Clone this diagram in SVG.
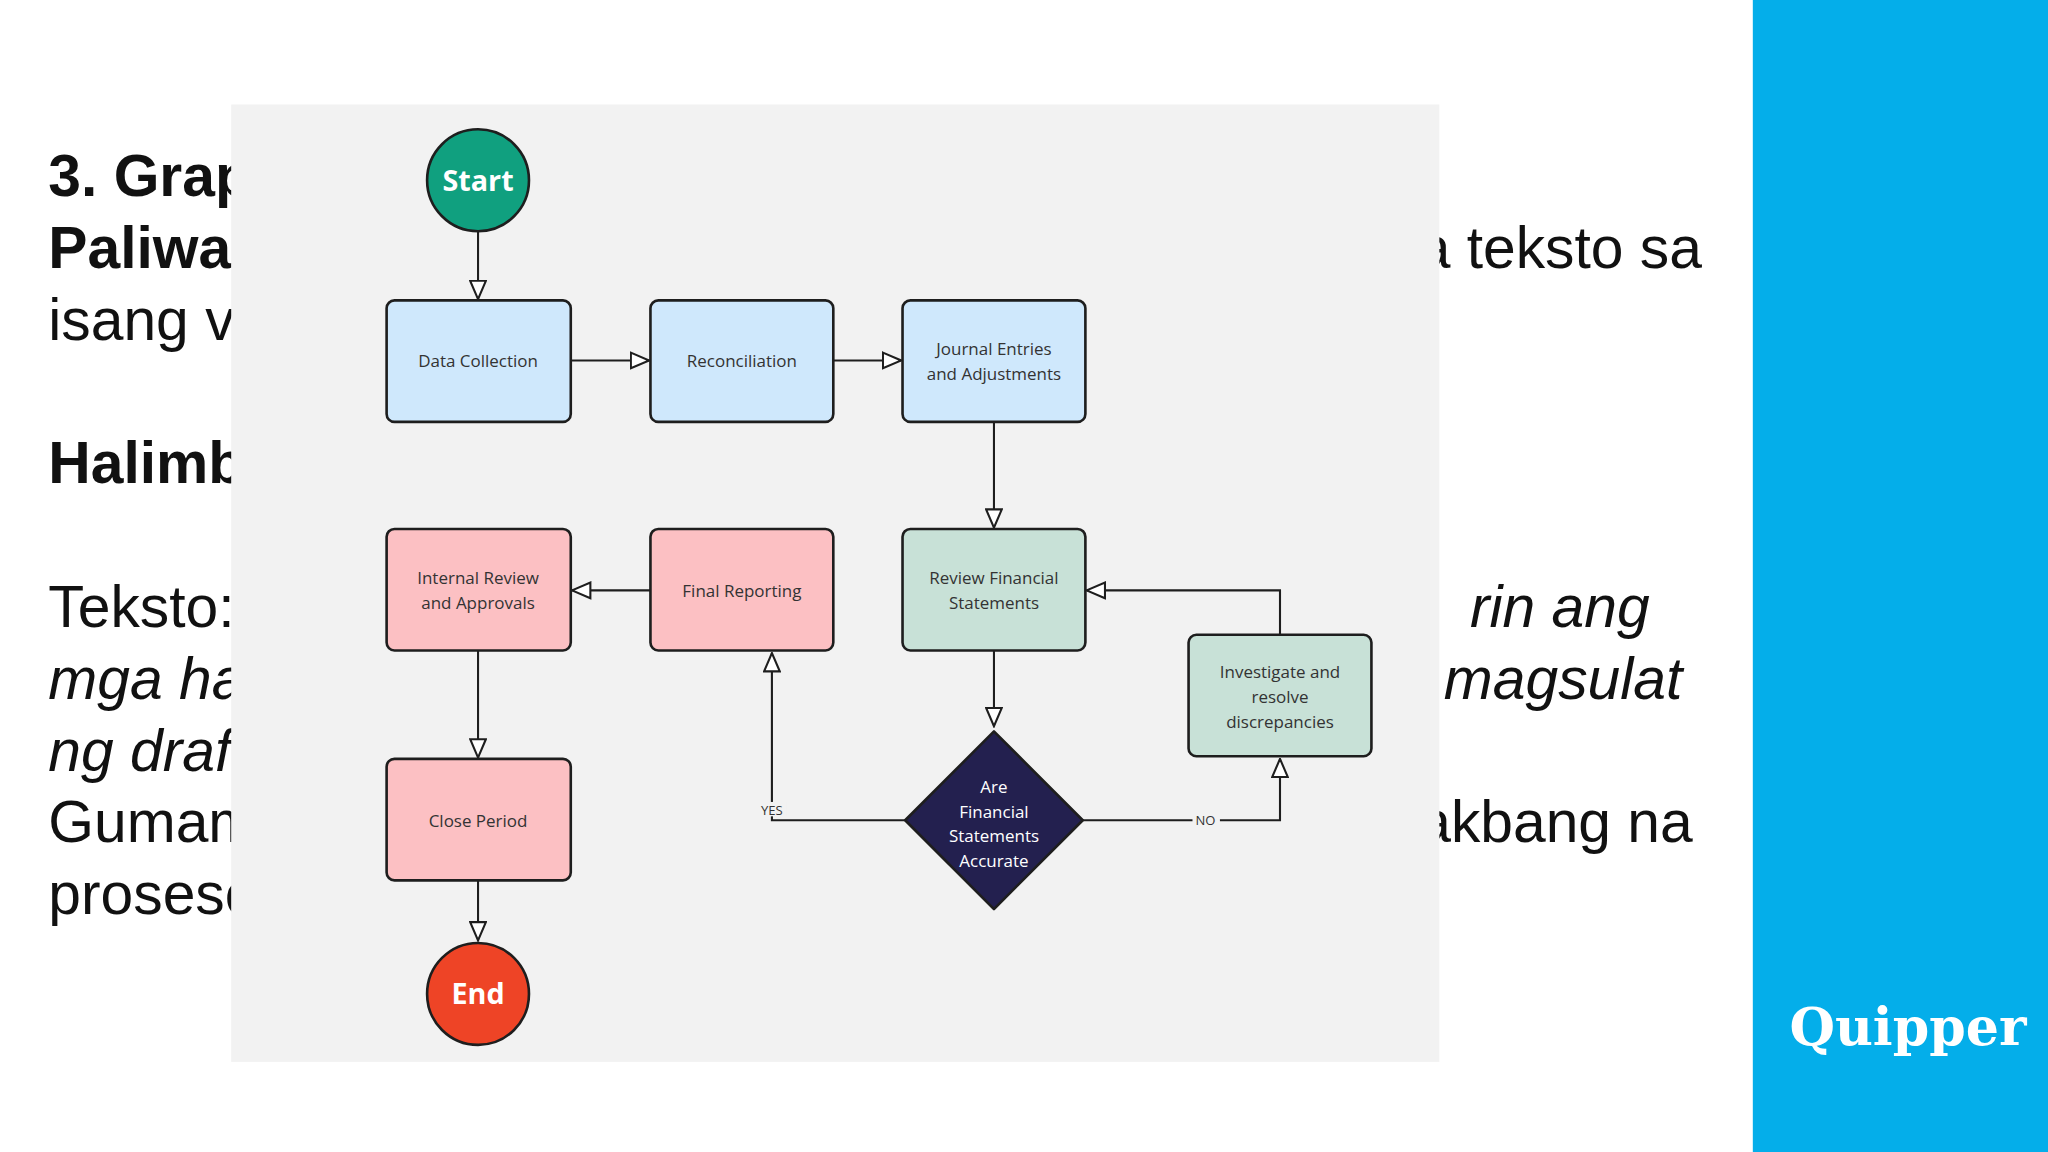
<svg xmlns="http://www.w3.org/2000/svg" width="2048" height="1152" viewBox="0 0 2048 1152">
<style>
.bg{font-family:"Liberation Sans",Arial,sans-serif;font-size:45px;fill:#111}
.b{font-weight:bold}.i{font-style:italic}
.box{stroke:#1e1e1e;stroke-width:2}
.blue{fill:#cfe8fc}.pink{fill:#fcc0c3}.green{fill:#c8e1d7}
.t{font-family:"Open Sans","Noto Sans",sans-serif;font-size:13px;fill:#333;text-anchor:middle}
.w{font-family:"Open Sans","Noto Sans",sans-serif;font-weight:bold;font-size:22px;fill:#fff;text-anchor:middle}
.c{fill:none;stroke:#1e1e1e;stroke-width:1.6}
.lbl{font-family:"Open Sans","Noto Sans",sans-serif;font-size:10px;fill:#333;text-anchor:middle}
</style>
<defs>
<marker id="a" markerUnits="userSpaceOnUse" markerWidth="16" markerHeight="14" refX="15" refY="7" orient="auto">
<path d="M1,1 L15,7 L1,13 Z" fill="#fff" stroke="#1e1e1e" stroke-width="1.6"/>
</marker>
</defs>
<rect width="2048" height="1152" fill="#fff"/>
<g transform="scale(1.306122)">
<rect x="1342" y="0" width="226" height="882" fill="#04aeea"/>
<text x="1370" y="800" font-family="'DejaVu Serif',serif" font-weight="bold" font-size="40" fill="#fff">Quipper</text>
<g id="bgtext">
<text class="bg b" x="37" y="150">3. Graphic</text>
<text class="bg b" x="37" y="205">Paliwanag</text>
<text class="bg" x="37" y="260">isang visual</text>
<text class="bg b" x="37" y="370">Halimbawa</text>
<text class="bg" x="37" y="480">Teksto:</text>
<text class="bg i" x="37" y="535">mga hakbang</text>
<text class="bg i" x="37" y="590">ng draft</text>
<text class="bg" x="37" y="645">Gumamit</text>
<text class="bg" x="37" y="700">proseso</text>
<text class="bg" x="1303" y="205" text-anchor="end">a teksto sa</text>
<text class="bg i" x="1263" y="480" text-anchor="end">rin ang</text>
<text class="bg i" x="1288" y="535" text-anchor="end">magsulat</text>
<text class="bg" x="1296" y="645" text-anchor="end">akbang na</text>
</g>
<rect x="177" y="80" width="925" height="733" fill="#f2f2f2"/>
<g id="connectors">
<path class="c" d="M366,177 V229" marker-end="url(#a)"/>
<path class="c" d="M437,276 H497" marker-end="url(#a)"/>
<path class="c" d="M638,276 H690" marker-end="url(#a)"/>
<path class="c" d="M761,323 V404" marker-end="url(#a)"/>
<path class="c" d="M498,452 H438" marker-end="url(#a)"/>
<path class="c" d="M366,498 V580" marker-end="url(#a)"/>
<path class="c" d="M366,674 V720" marker-end="url(#a)"/>
<path class="c" d="M761,498 V556" marker-end="url(#a)"/>
<path class="c" d="M693,628 H591 V500" marker-end="url(#a)"/>
<path class="c" d="M829,628 H980 V581" marker-end="url(#a)"/>
<path class="c" d="M980,486 V452 H832" marker-end="url(#a)"/>
<rect x="580" y="614" width="22" height="11" fill="#f2f2f2"/>
<text class="lbl" x="591" y="624">YES</text>
<rect x="913" y="622" width="21" height="12" fill="#f2f2f2"/>
<text class="lbl" x="923" y="632">NO</text>
</g>
<g id="start"><circle cx="366" cy="138" r="39" fill="#10a07f" class="box"/><text class="w" x="366" y="146">Start</text></g>
<g id="dc"><rect class="box blue" x="296" y="230" width="141" height="93" rx="6"/><text class="t" x="366" y="281">Data Collection</text></g>
<g id="rec"><rect class="box blue" x="498" y="230" width="140" height="93" rx="6"/><text class="t" x="568" y="281">Reconciliation</text></g>
<g id="je"><rect class="box blue" x="691" y="230" width="140" height="93" rx="6"/><text class="t" x="761" y="272">Journal Entries</text><text class="t" x="761" y="291">and Adjustments</text></g>
<g id="ir"><rect class="box pink" x="296" y="405" width="141" height="93" rx="6"/><text class="t" x="366" y="447">Internal Review</text><text class="t" x="366" y="466">and Approvals</text></g>
<g id="fr"><rect class="box pink" x="498" y="405" width="140" height="93" rx="6"/><text class="t" x="568" y="457">Final Reporting</text></g>
<g id="rfs"><rect class="box green" x="691" y="405" width="140" height="93" rx="6"/><text class="t" x="761" y="447">Review Financial</text><text class="t" x="761" y="466">Statements</text></g>
<g id="inv"><rect class="box green" x="910" y="486" width="140" height="93" rx="6"/><text class="t" x="980" y="519">Investigate and</text><text class="t" x="980" y="538">resolve</text><text class="t" x="980" y="557">discrepancies</text></g>
<g id="cp"><rect class="box pink" x="296" y="581" width="141" height="93" rx="6"/><text class="t" x="366" y="633">Close Period</text></g>
<g id="dec"><path class="box" fill="#23204f" stroke-linejoin="round" d="M761,560 L829,628 L761,696 L693,628 Z"/>
<text class="t" style="fill:#fff" x="761" y="607">Are</text><text class="t" style="fill:#fff" x="761" y="626">Financial</text><text class="t" style="fill:#fff" x="761" y="645">Statements</text><text class="t" style="fill:#fff" x="761" y="664">Accurate</text></g>
<g id="end"><circle cx="366" cy="761" r="39" fill="#ee4426" class="box"/><text class="w" x="366" y="769">End</text></g>
</g>
</svg>
